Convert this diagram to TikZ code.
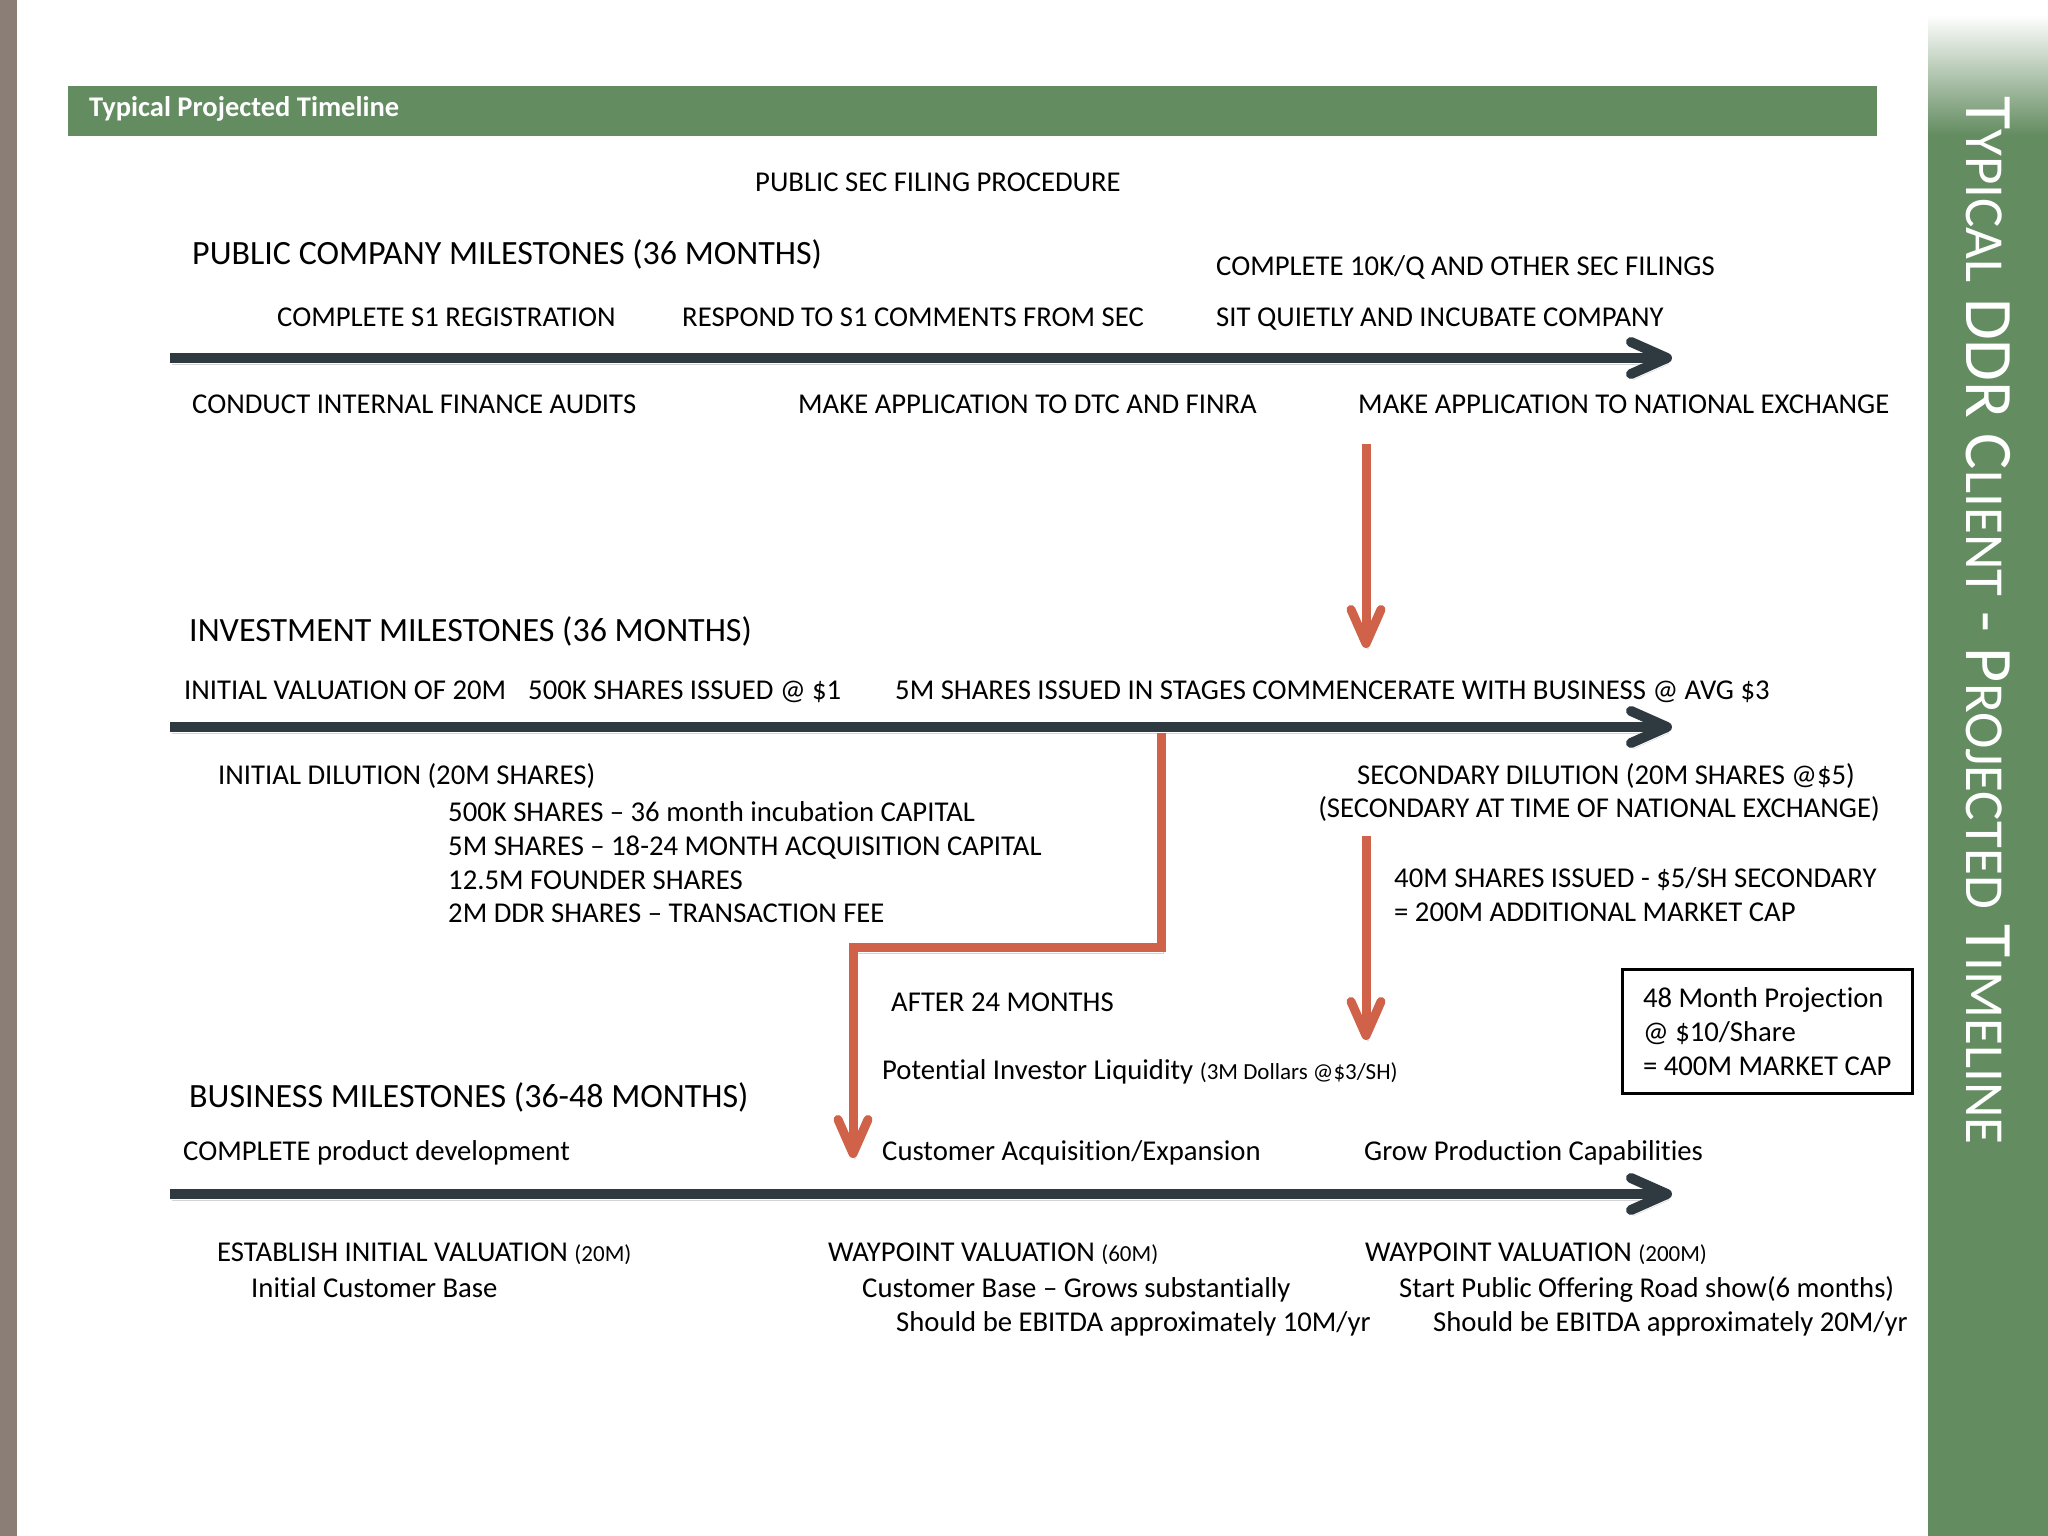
\documentclass[tikz,border=0pt]{standalone}
\usepackage{fontspec}
\setmainfont{Carlito}[Ligatures={TeX,NoCommon}]
\usetikzlibrary{arrows.meta}

\definecolor{barGreen}{RGB}{99,140,96}
\definecolor{edgeBrown}{RGB}{138,126,118}
\definecolor{lineDark}{RGB}{46,57,64}
\definecolor{lineRed}{RGB}{208,98,74}

\newcommand{\capbig}[1]{{\fontsize{68}{68}\selectfont #1}}
\newcommand{\capsml}[1]{{\fontsize{55}{55}\selectfont #1}}
\newcommand{\smalltxt}[1]{{\fontsize{23}{27}\selectfont #1}}

\tikzset{
  lbl/.style={anchor=base west},
  lblc/.style={anchor=base},
  headlbl/.style={anchor=base west, font=\fontsize{34}{40}\selectfont},
  shadowed/.style={preaction={draw=black!17, transform canvas={shift={(2pt,-6pt)}}}},
  timeline/.style={shadowed, draw=lineDark, line width=10pt,
    -{Straight Barb[length=36pt,width=32pt,round]}},
  flowline/.style={shadowed, draw=lineRed, line width=9pt,
    -{Straight Barb[length=34pt,width=30pt,round]}}
}

\begin{document}
\begin{tikzpicture}[x=1pt,y=-1pt,
  every node/.style={inner sep=0pt, font=\fontsize{28.7}{34}\selectfont}]
  \useasboundingbox (0,0) rectangle (2048,1536);
  \fill[white] (0,0) rectangle (2048,1536);
  % frame
  \fill[edgeBrown] (0,0) rectangle (17,1536);
  \fill[barGreen] (68,86) rectangle (1877,136);
  \node[lbl, text=white, font=\bfseries\fontsize{28.5}{34}\selectfont] (title) at (89,117) {Typical Projected Timeline};
  \shade[top color=white, bottom color=barGreen] (1928,15) rectangle (2048,135);
  \fill[barGreen] (1928,135) rectangle (2048,1536);
  \node[rotate=-90, anchor=base west, text=white, font=\fontsize{68}{68}\selectfont] (side) at (1966,96)
    {\capbig{T}\capsml{YPICAL} \capbig{DDR C}\capsml{LIENT} \capbig{- P}\capsml{ROJECTED} \capbig{T}\capsml{IMELINE}};

  % public company row
  \node[lbl] (secproc) at (755,191) {PUBLIC SEC FILING PROCEDURE};
  \node[headlbl] (pubhead) at (192,264) {PUBLIC COMPANY MILESTONES (36 MONTHS)};
  \node[lbl] (tenk) at (1216,275) {COMPLETE 10K/Q AND OTHER SEC FILINGS};
  \node[lbl] (sone) at (277,326) {COMPLETE S1 REGISTRATION};
  \node[lbl] (respond) at (682,326) {RESPOND TO S1 COMMENTS FROM SEC};
  \node[lbl] (incub) at (1216,326) {SIT QUIETLY AND INCUBATE COMPANY};
  \node[lbl] (audits) at (192,413) {CONDUCT INTERNAL FINANCE AUDITS};
  \node[lbl] (dtc) at (798,413) {MAKE APPLICATION TO DTC AND FINRA};
  \node[lbl] (natex) at (1358,413) {MAKE APPLICATION TO NATIONAL EXCHANGE};
  \coordinate (pubS) at (170,358);
  \coordinate (pubE) at (1672,358);
  \draw[timeline] (pubS) -- (pubE);

  % investment row
  \node[headlbl] (invhead) at (189,641) {INVESTMENT MILESTONES (36 MONTHS)};
  \node[lbl] (initval) at (184,699) {INITIAL VALUATION OF 20M};
  \node[lbl] (halfm) at (528,699) {500K SHARES ISSUED @ \$1};
  \node[lbl] (fivem) at (895,699) {5M SHARES ISSUED IN STAGES COMMENCERATE WITH BUSINESS @ AVG \$3};
  \coordinate (invS) at (170,727);
  \coordinate (invE) at (1672,727);
  \draw[timeline] (invS) -- (invE);
  \node[lbl] (initdil) at (218,784) {INITIAL DILUTION (20M SHARES)};
  \foreach \i/\ypos/\txt in {1/821/{500K SHARES – 36 month incubation CAPITAL},
      2/855/{5M SHARES – 18-24 MONTH ACQUISITION CAPITAL},
      3/889/{12.5M FOUNDER SHARES},
      4/922/{2M DDR SHARES – TRANSACTION FEE}}
    \node[lbl] (dil\i) at (448,\ypos) {\txt};
  \node[lblc] (secdil) at (1606,784) {SECONDARY DILUTION (20M SHARES @\$5)};
  \node[lblc] (secnat) at (1599,817) {(SECONDARY AT TIME OF NATIONAL EXCHANGE)};
  \node[lbl] (fortym) at (1394,887) {40M SHARES ISSUED - \$5/SH SECONDARY};
  \node[lbl] (addcap) at (1394,921) {= 200M ADDITIONAL MARKET CAP};
  \node[lbl] (after) at (891,1011) {AFTER 24 MONTHS};
  \node[lbl] (liquid) at (882,1079) {Potential Investor Liquidity \smalltxt{(3M Dollars @\$3/SH)}};
  \node[draw, line width=2.5pt, anchor=north west, minimum width=290pt, minimum height=124pt,
    align=left] (proj) at (1621,968) {48 Month Projection\\@ \$10/Share\\= 400M MARKET CAP};

  % business row
  \node[headlbl] (bushead) at (189,1107) {BUSINESS MILESTONES (36-48 MONTHS)};
  \node[lbl] (product) at (183,1160) {COMPLETE product development};
  \node[lbl] (custacq) at (882,1160) {Customer Acquisition/Expansion};
  \node[lbl] (grow) at (1364,1160) {Grow Production Capabilities};
  \coordinate (busS) at (170,1194);
  \coordinate (busE) at (1672,1194);
  \draw[timeline] (busS) -- (busE);
  \node[lbl] (estab) at (217,1261) {ESTABLISH INITIAL VALUATION \smalltxt{(20M)}};
  \node[lbl] (custbase) at (251,1297) {Initial Customer Base};
  \node[lbl] (wayA) at (828,1261) {WAYPOINT VALUATION \smalltxt{(60M)}};
  \node[lbl] (grows) at (862,1297) {Customer Base – Grows substantially};
  \node[lbl] (ebitA) at (896,1331) {Should be EBITDA approximately 10M/yr};
  \node[lbl] (wayB) at (1365,1261) {WAYPOINT VALUATION \smalltxt{(200M)}};
  \node[lbl] (roadshow) at (1399,1297) {Start Public Offering Road show(6 months)};
  \node[lbl] (ebitB) at (1433,1331) {Should be EBITDA approximately 20M/yr};

  % red flow arrows
  \coordinate (exTop) at (1366,444);
  \coordinate (exTip) at (1366,648);
  \draw[flowline] (exTop) -- (exTip);
  \coordinate (elbA) at (1161,733);
  \coordinate (elbB) at (1161,947);
  \coordinate (elbC) at (853,947);
  \coordinate (elbD) at (853,1158);
  \draw[flowline] (elbA) -- (elbB) -- (elbC) -- (elbD);
  \coordinate (secTop) at (1366,836);
  \coordinate (secTip) at (1366,1040);
  \draw[flowline] (secTop) -- (secTip);
\end{tikzpicture}
\end{document}
